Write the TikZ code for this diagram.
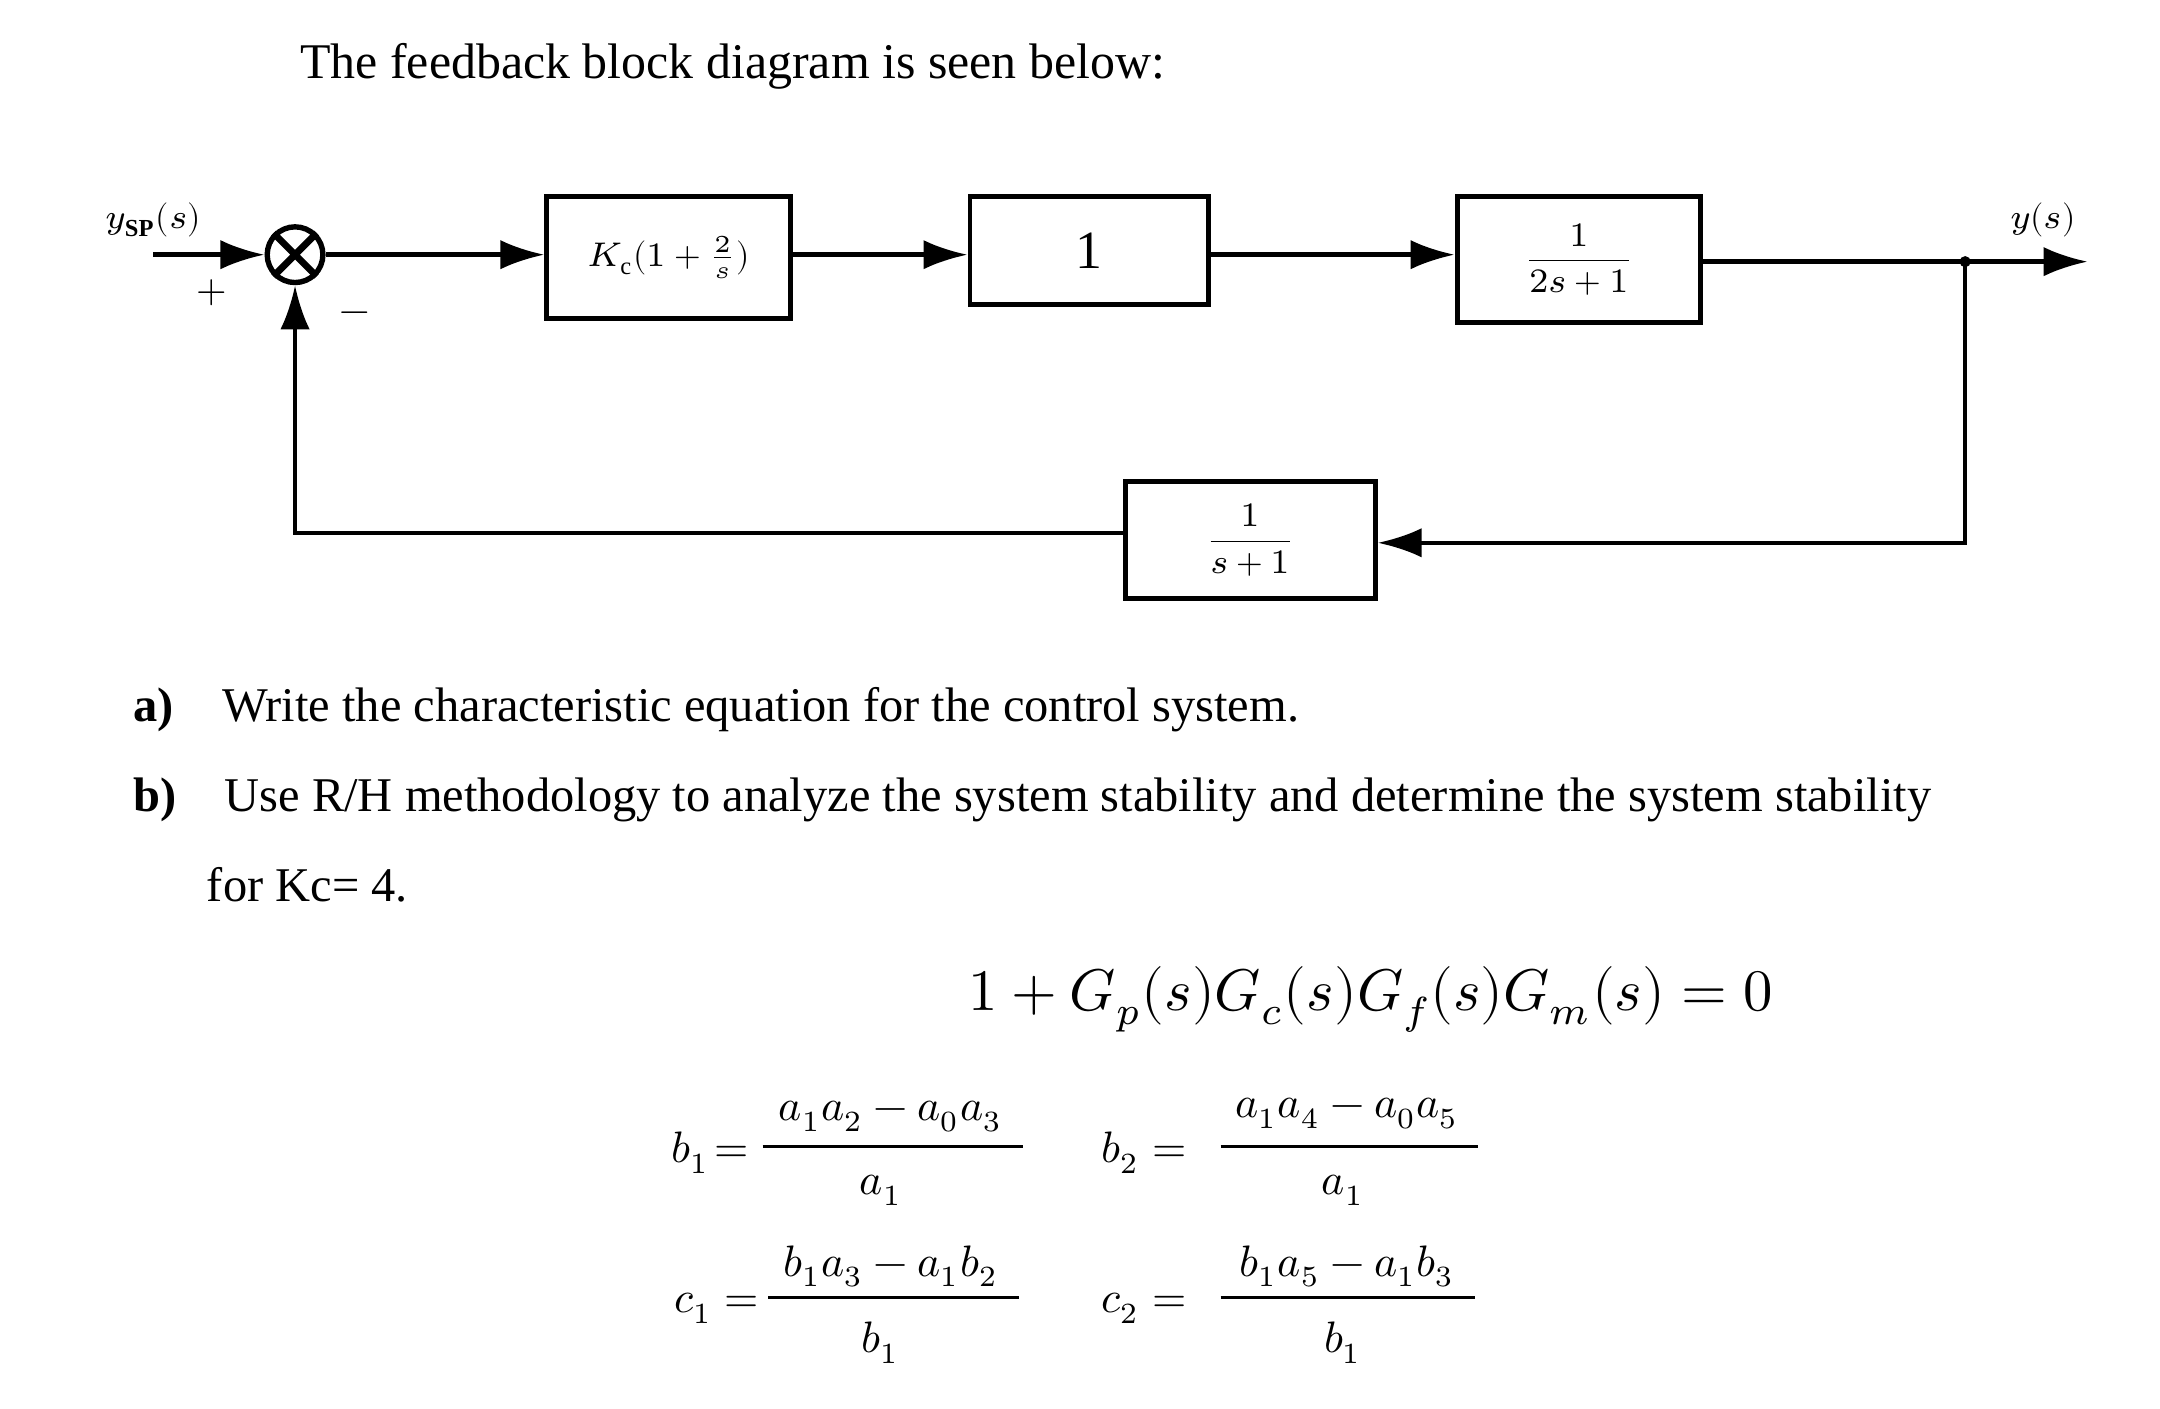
\documentclass[tikz,border=0pt]{standalone}
\usepackage{fontspec}
\setmainfont{Liberation Serif}
\usepackage{unicode-math}
\setmathfont{Latin Modern Math}
\usetikzlibrary{arrows.meta}
\begin{document}
\begin{tikzpicture}[x=0.01cm,y=-0.01cm,
  blk/.style={draw,line width=1pt,inner sep=0pt,font=\fontsize{7}{8}\selectfont},
  sig/.style={line width=0.9pt,-{Latex[length=9pt,width=6pt]}},
  ln/.style={line width=0.9pt},
  txt/.style={font=\fontsize{9.9}{11}\selectfont,anchor=west,inner sep=0pt},
  fr/.style={line width=0.6pt}]
\useasboundingbox (0,0) rectangle (1552,1012);
\node[txt,font=\fontsize{10.2}{11}\selectfont] (title) at (215,48) {The feedback block diagram is seen below:};
% blocks
\node[blk,minimum width=1.75cm,minimum height=0.88cm] (b1) at (480.5,185) {$K_{\mathrm c}(1+\frac{2}{s})$};
\node[blk,minimum width=1.71cm,minimum height=0.78cm,font=\fontsize{11}{12}\selectfont] (b2) at (782.5,180) {1};
\node[blk,minimum width=1.75cm,minimum height=0.91cm] (b3) at (1134.5,186.5) {$\dfrac{1}{2s+1}$};
\node[blk,minimum width=1.79cm,minimum height=0.84cm] (b4) at (898.5,388) {$\dfrac{1}{s+1}$};
% summing junction
\node[circle,draw,line width=1.1pt,inner sep=0pt,minimum size=0.4cm] (S) at (212,183) {};
\draw[line width=1.4pt] (S.north west)--(S.south east) (S.north east)--(S.south west);
\coordinate (in) at (110,183);
\coordinate (tap) at (1412,188);
\coordinate (out) at (1500,188);
\coordinate (c1) at (1412,390);
\coordinate (c2) at (212,383);
\draw[sig] (in) -- (S.west);
\draw[sig] (S.east) -- (b1.west|-S);
\draw[sig] (b1.east|-S) -- (b2.west|-S);
\draw[sig] (b2.east|-S) -- (b3.west|-S);
\draw[ln] (b3.east|-tap) -- (tap);
\draw[sig] (tap) -- (out);
\fill (tap) circle (4);
\draw[sig] (tap) -- (c1) -- (b4.east|-c1);
\draw[sig] (b4.west|-c2) -- (c2) -- (S.south);
\node (ysp) at (110,158) {\fontsize{7}{8}\selectfont $y_{\mathbf{SP}}(s)$};
\node (ys) at (1468,158) {\fontsize{7}{8}\selectfont $y(s)$};
\node (plus) at (152,210) {\fontsize{8}{9}\selectfont $+$};
\node (minus) at (255,228) {\fontsize{8}{9}\selectfont $-$};
% questions
\node[txt] (qa) at (95,510) {\textbf{a)}\hspace{1em}Write the characteristic equation for the control system.};
\node[txt] (qb) at (95,575) {\textbf{b)}\hspace{1em}Use R/H methodology to analyze the system stability and determine the system stability};
\node[txt] (qc) at (148,636) {for Kc= 4.};
\node (eq) at (985,718) {\fontsize{12}{14}\selectfont $1+G_p(s)G_c(s)G_f(s)G_m(s)=0$};
% Routh formulas
\begin{scope}[every node/.style={font=\fontsize{9}{11}\selectfont}]
\node (lb1) at (510,828) {$b_1\!=$};
\node (nb1) at (640,802) {$a_1a_2 - a_0a_3$};
\node (db1) at (633,855) {$a_1$};
\draw[fr] (548,824) -- (735,824);
\node (lb2) at (822,828) {$b_2=$};
\node (nb2) at (968,800) {$a_1a_4 - a_0a_5$};
\node (db2) at (965,855) {$a_1$};
\draw[fr] (877,824) -- (1062,824);
\node (lc1) at (515,940) {$c_1=$};
\node (nc1) at (640,910) {$b_1a_3 - a_1b_2$};
\node (dc1) at (633,965) {$b_1$};
\draw[fr] (552,932) -- (732,932);
\node (lc2) at (822,940) {$c_2=$};
\node (nc2) at (968,910) {$b_1a_5 - a_1b_3$};
\node (dc2) at (965,965) {$b_1$};
\draw[fr] (877,932) -- (1060,932);
\end{scope}
\end{tikzpicture}
\end{document}
